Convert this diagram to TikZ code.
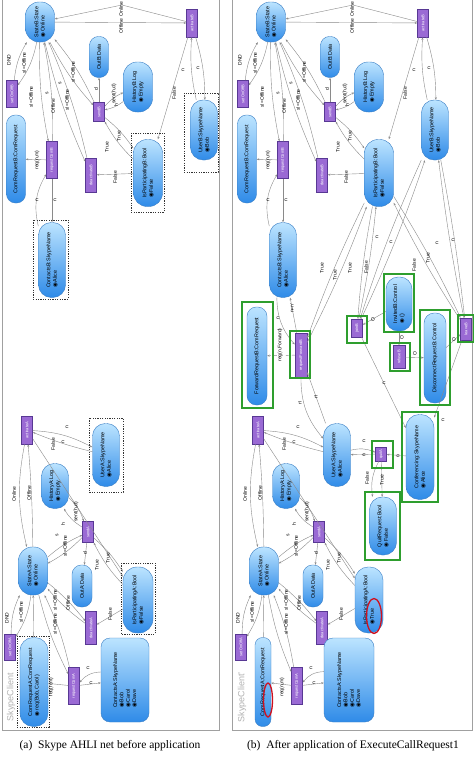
\documentclass[tikz,border=0pt]{standalone}
\usepackage{fontspec}
\setmainfont{Liberation Serif}
\setsansfont{Liberation Sans}
\newfontfamily\symf{DejaVu Sans}
\usetikzlibrary{arrows.meta}
\definecolor{placeL}{HTML}{BCE4FF}
\definecolor{placeD}{HTML}{2F8BE8}
\definecolor{placeB}{HTML}{3A7EC4}
\definecolor{transF}{HTML}{9A6AD4}
\definecolor{transB}{HTML}{583894}
\definecolor{arcC}{HTML}{8A8A8A}
\definecolor{greenC}{HTML}{2E9E2E}
\definecolor{redC}{HTML}{D0101E}
\definecolor{frameC}{HTML}{A0A0A0}
\newcommand\tk{{\symf\char"25C9}\,}
\tikzset{
 pl/.style={draw=placeB, line width=0.4pt, top color=placeL, bottom color=placeD, rotate=90,
   font=\sffamily\fontsize{5.4}{6.4}\selectfont, align=left, inner sep=0.5pt, text=black},
 psz/.style 2 args={minimum width=#2pt, minimum height=#1pt, rounded corners=#1*0.47pt},
 tr/.style={draw=transB, line width=0.5pt, fill=transF, rotate=90,
   font=\sffamily\fontsize{4}{4.5}\selectfont, text=white, inner sep=0pt},
 tsz/.style 2 args={minimum width=#2pt, minimum height=#1pt},
 lb/.style={font=\sffamily\fontsize{5}{5.5}\selectfont, rotate=90, inner sep=0pt},
 ar/.style={draw=arcC, line width=0.4pt, -{Stealth[length=2.6pt,width=2pt]}},
 gb/.style={draw=greenC, line width=1.3pt},
 db/.style={draw=black!80, line width=0.5pt, dash pattern=on 1.2pt off 1.2pt},
 rd/.style={draw=redC, line width=1.3pt},
 sk/.style={font=\sffamily\fontsize{9}{10}\selectfont, text=black!30, rotate=90},
 captxt/.style={font=\fontsize{11.5}{13}\selectfont},
}
% common nodes: #1 prefix, #2 x of requestComA, #3 x of ContactsA, #4 width of ContactsA
\newcommand\commonnodes[4]{%
\node[pl,psz={29}{40}] (#1StateB) at (40,22) {StateB:State\\\tk Online};
\node[pl,psz={19}{41}] (#1OutB) at (99,57) {OutB:Data};
\node[pl,psz={29}{50}] (#1HistB) at (138,87) {HistoryB:Log\\\tk Empty};
\node[tr,tsz={11}{27}] (#1SetB) at (12,94) {setOnOffB};
\node[tr,tsz={11}{19}] (#1SendB) at (99,112) {sendB};
\node[tr,tsz={11}{28}] (#1ActB) at (192,23) {activateB};
\node[pl,psz={27}{60}] (#1UserB) at (204,130) {UserB:SkypeName\\\tk Bob};
\node[pl,psz={19}{88}] (#1ComReqB) at (16,159) {ComRequestB:ComRequest};
\node[tr,tsz={11}{37}] (#1ReqComB) at (52,160) {requestComB};
\node[tr,tsz={11}{34}] (#1DeactB) at (91,175) {deactivateB};
\node[pl,psz={29}{67}] (#1PartB) at (148,173) {IsParticipatingB:Bool\\\tk False};
\node[pl,psz={27}{75}] (#1ContB) at (52,260) {ContactsB:SkypeName\\\tk Alice};
\node[tr,tsz={11}{28}] (#1ActA) at (27,430) {activateA};
\node[pl,psz={27}{63}] (#1UserA) at (106,455) {UserA:SkypeName\\\tk Alice};
\node[pl,psz={27}{45}] (#1HistA) at (55,486) {HistoryA:Log\\\tk Empty};
\node[tr,tsz={11}{21}] (#1SendA) at (88,532) {sendA};
\node[pl,psz={29}{48}] (#1StateA) at (33,571) {StateA:State\\\tk Online};
\node[pl,psz={20}{42}] (#1OutA) at (82,586) {OutA:Data};
\node[tr,tsz={11}{26}] (#1SetA) at (10,647) {setOnOffA};
\node[tr,tsz={11}{33}] (#1DeactA) at (91,628) {deactivateA};
\node[tr,tsz={11}{37}] (#1ReqComA) at (#2,686) {requestComA};
\node[pl,minimum width=84pt,minimum height=#4pt,rounded corners=9pt] (#1ContA) at (#3,680)
  {ContactsA:SkypeName\\\tk Bob\\\tk Carol\\\tk Dave};
}
% common edges: #1 prefix, #2 x of requestComA
\newcommand\commonedges[2]{%
\coordinate (#1ob) at (122,5);
\draw[ar] (#1StateB) -- (#1ActB);
\draw[ar] (#1ActB) -- (#1ob) -- (#1StateB);
\node[lb] at (121,26) {Offline};
\node[lb] at (121,9) {Online};
\draw[ar] (#1SetB) to[bend left=12] (#1StateB);
\draw[ar] (#1StateB) to[bend left=12] (#1SetB);
\node[lb] at (9,60) {DND};
\node[lb] at (24,63) {s!=Offline};
\draw[ar] (#1StateB) to[bend right=6] (#1ReqComB);
\draw[ar] (#1ReqComB) to[bend right=6] (#1StateB);
\draw[ar] (#1StateB) to[bend right=5] (#1DeactB);
\draw[ar] (#1DeactB) to[bend right=5] (#1StateB);
\draw[ar] (#1StateB) to[bend right=7] (#1SendB);
\draw[ar] (#1SendB) to[bend right=7] (#1StateB);
\node[lb] at (31,97) {s!=Offline};
\node[lb] at (47,93) {s};
\node[lb] at (53,106) {Offline};
\node[lb] at (67,100) {s!=Offline};
\node[lb] at (60,83) {s};
\node[lb] at (73,72) {s!=Offline};
\draw[ar] (#1SendB) -- (#1OutB);
\node[lb] at (96,89) {d};
\draw[ar] (#1SendB) to[bend left=12] (#1HistB);
\draw[ar] (#1HistB) to[bend left=12] (#1SendB);
\node[lb] at (114,94) {sent(h,d)};
\node[lb] at (116,105) {h};
\draw[ar] (#1SendB) to[bend left=8] (#1PartB);
\draw[ar] (#1PartB) to[bend left=8] (#1SendB);
\node[lb] at (107,147) {True};
\node[lb] at (119,136) {True};
\draw[ar] (#1PartB) -- (#1DeactB);
\node[lb] at (115,177) {False};
\draw[ar] (#1ActB) -- (#1PartB);
\node[lb] at (174,93) {False};
\draw[ar] (#1ActB) to[bend left=8] (#1UserB);
\draw[ar] (#1UserB) to[bend left=8] (#1ActB);
\node[lb] at (183,70) {n};
\node[lb] at (198,68) {n};
\draw[ar] (#1ReqComB) -- (#1ComReqB);
\node[lb] at (37,160) {req(n,m)};
\draw[ar] (#1ContB) to[bend left=22] (#1ReqComB);
\draw[ar] (#1ReqComB) -- (#1ContB);
\node[lb] at (37,200) {n};
\node[lb] at (55,200) {n};
% lower part
\draw[ar] (#1ActA) to[bend right=12] (#1StateA);
\draw[ar] (#1StateA) to[bend right=2] (#1ActA);
\node[lb] at (14,494) {Online};
\node[lb] at (29,493) {Offline};
\draw[ar] (#1ActA) to[bend left=12] (#1UserA);
\draw[ar] (#1UserA) to[bend left=4] (#1ActA);
\node[lb] at (67,427) {n};
\node[lb] at (63,442) {n};
\draw[ar] (#1ActA) -- (#1PartA);
\node[lb] at (53,444) {False};
\draw[ar] (#1SendA) to[bend left=8] (#1StateA);
\draw[ar] (#1StateA) to[bend left=8] (#1SendA);
\node[lb] at (57,535) {s};
\node[lb] at (65,546) {s!=Offline};
\draw[ar] (#1SendA) to[bend left=14] (#1HistA);
\draw[ar] (#1HistA) to[bend left=14] (#1SendA);
\node[lb] at (76,512) {sent(h,d)};
\node[lb] at (63,524) {h};
\draw[ar] (#1SendA) -- (#1OutA);
\node[lb] at (85,553) {d};
\draw[ar] (#1SendA) to[bend left=8] (#1PartA);
\draw[ar] (#1PartA) to[bend left=8] (#1SendA);
\node[lb] at (97,565) {True};
\node[lb] at (108,558) {True};
\draw[ar] (#1SetA) to[bend left=12] (#1StateA);
\draw[ar] (#1StateA) to[bend left=12] (#1SetA);
\node[lb] at (7,618) {DND};
\node[lb] at (21,612) {s!=Offline};
\draw[ar] (#1StateA) to[bend right=6] (#1ReqComA);
\draw[ar] (#1ReqComA) to[bend right=6] (#1StateA);
\node[lb] at (55,600) {s!=Offline};
\node[lb] at (55,624) {s!=Offline};
\draw[ar] (#1ComReqA) -- (#1StateA);
\draw[ar] (#1StateA) to[bend left=6] (#1DeactA);
\draw[ar] (#1DeactA) to[bend left=6] (#1StateA);
\node[lb] at (68,603) {Offline};
\draw[ar] (#1PartA) -- (#1DeactA);
\node[lb] at (110,614) {False};
\draw[ar] (#1ReqComA) -- (#1ComReqA);
\node[lb] at (51,687) {req(n,m)};
\draw[ar] (#1ContA) to[bend right=25] (#1ReqComA);
\draw[ar] (#1ReqComA) -- (#1ContA);
\node[lb] at (#2+14,668) {n};
\node[lb] at (#2+17,683) {n};
}
\begin{document}
\begin{tikzpicture}[x=1pt,y=-1pt]
\useasboundingbox (0,0) rectangle (474,769);
\fill[white] (0,0) rectangle (474,769);
\draw[frameC, line width=1pt] (2,-5) rectangle (219,730);
\draw[frameC, line width=1pt] (232,-5) rectangle (472,730);
\node[sk] (ska) at (11,697) {SkypeClient};
\node[sk] (skb) at (242,697) {SkypeClient'};
% ---------- nodes
\begin{scope}
\commonnodes{a}{74}{125}{48}
\end{scope}
\begin{scope}[xshift=231pt]
\commonnodes{b}{66}{118}{50}
\end{scope}
\node[pl,psz={30}{66}] (aPartA) at (138,600) {IsParticipatingA:Bool\\\tk False};
\node[pl,psz={28}{89}] (aComReqA) at (34,682) {ComRequestA:ComRequest\\\tk req(Bob,Carol)};
\node[pl,psz={28}{66}] (bPartA) at (369,600) {IsParticipatingA:Bool\\\tk True};
\node[pl,psz={16}{89}] (bComReqA) at (263,682) {ComRequestA:ComRequest};
% panel b extra nodes
\node[pl,psz={20}{98}] (bFwdReqB) at (257,356) {ForwardRequestB:ComRequest};
\node[tr,tsz={12}{44}] (bReqFwdB) at (301,355) {requestForwardB};
\node[tr,tsz={11}{18}] (bJoinB) at (357,328) {joinB};
\node[pl,psz={26}{54}] (bInvB) at (399,304) {InvitedB:Control\\\tk ()};
\node[tr,tsz={12}{23}] (bRefuseB) at (399,357) {refuseB};
\node[pl,psz={22}{90}] (bDiscB) at (435,358) {DisconnectRequestB:Control};
\node[tr,tsz={11}{22}] (bLeaveB) at (466,329) {leaveB};
\node[tr,tsz={11}{14}] (bQuitA) at (381,454) {quitA};
\node[pl,psz={28}{85}] (bConfA) at (420,457) {Conferencing:SkypeName\\\tk Alice};
\node[pl,psz={27}{58}] (bQuitReq) at (383,526) {QuitRequest:Bool\\\tk False};
% ---------- edges
\begin{scope}
\commonedges{a}{74}
\end{scope}
\begin{scope}[xshift=231pt]
\commonedges{b}{66}
\end{scope}
% panel b extra edges
\draw[ar] (bPartB) to[bend right=3] (bReqFwdB);
\draw[ar] (bReqFwdB) to[bend right=3] (bPartB);
\node[lb] at (322,268) {True};
\node[lb] at (335,275) {True};
\draw[ar] (bPartB) to[bend right=3] (bJoinB);
\draw[ar] (bJoinB) to[bend right=3] (bPartB);
\node[lb] at (350,268) {True};
\node[lb] at (366,267) {False};
\draw[ar] (bPartB) to[bend left=3] (bLeaveB);
\draw[ar] (bLeaveB) to[bend left=3] (bPartB);
\node[lb] at (414,265) {False};
\node[lb] at (428,258) {True};
\draw[ar] (bUserB) to[bend right=3] (bJoinB);
\draw[ar] (bJoinB) to[bend right=3] (bUserB);
\node[lb] at (377,237) {n};
\node[lb] at (391,242) {n};
\draw[ar] (bUserB) to[bend left=2] (bLeaveB);
\draw[ar] (bLeaveB) to[bend left=2] (bUserB);
\node[lb] at (437,243) {n};
\node[lb] at (453,240) {n};
\draw[ar] (bContB) to[bend right=20] (bReqFwdB);
\draw[ar] (bReqFwdB) -- (bContB);
\node[lb] at (278,318) {n};
\node[lb] at (292,308) {n=n'};
\draw[ar, dashed] (bReqFwdB) -- (bFwdReqB);
\node[lb] at (280,345) {req(n,Forward)};
\draw[ar] (bReqFwdB) to[bend right=20] (bUserA);
\draw[ar] (bUserA) -- (bReqFwdB);
\node[lb] at (300,403) {n'};
\node[lb] at (316,397) {n'};
\draw[ar] (bInvB) -- (bJoinB);
\node[lb] at (373,320) {O};
\draw[ar] (bInvB) -- (bRefuseB);
\node[lb] at (402,338) {O};
\draw[ar] (bRefuseB) -- (bDiscB);
\node[lb] at (415,354) {O};
\draw[ar] (bDiscB) -- (bLeaveB);
\node[lb] at (454,340) {O};
\draw[ar] (bJoinB) -- (bConfA);
\node[lb] at (384,383) {n};
\draw[ar] (bLeaveB) -- (bConfA);
\node[lb] at (443,420) {n};
\draw[ar] (bUserA) to[bend left=18] (bQuitA);
\draw[ar] (bQuitA) -- (bUserA);
\node[lb] at (364,441) {n};
\node[lb] at (364,455) {n};
\draw[ar] (bConfA) -- (bQuitA);
\node[lb] at (398,456) {n};
\draw[ar] (bQuitA) to[bend right=18] (bQuitReq);
\draw[ar] (bQuitA) -- (bQuitReq);
\node[lb] at (367,478) {False};
\node[lb] at (382,480) {True};
% ---------- boxes
\draw[db] (184,93) rectangle (218,172);
\draw[db] (131,133) rectangle (164,212);
\draw[db] (33,220) rectangle (68,299);
\draw[db] (89,418) rectangle (123,492);
\draw[db] (121,563) rectangle (155,634);
\draw[db] (17,636) rectangle (49,727);
\draw[gb] (242,302) rectangle (273,408);
\draw[gb] (290,331) rectangle (310,378);
\draw[gb] (347,316) rectangle (367,343);
\draw[gb] (384,274) rectangle (414,332);
\draw[gb] (390,343) rectangle (410,371);
\draw[gb] (420,310) rectangle (450,405);
\draw[gb] (458,315) rectangle (474,342);
\draw[gb] (372,441) rectangle (393,468);
\draw[gb] (402,412) rectangle (438,502);
\draw[gb] (365,492) rectangle (400,560);
\draw[rd] (374,616) ellipse [x radius=7.5pt, y radius=17.5pt];
\draw[rd] (268,700) ellipse [x radius=4.5pt, y radius=17pt];
% ---------- captions
\node[captxt] (capa) at (110,746) {(a)\ \ Skype AHLI net before application};
\node[captxt] (capb) at (353,746) {(b)\ \ After application of ExecuteCallRequest1};
\end{tikzpicture}
\end{document}
